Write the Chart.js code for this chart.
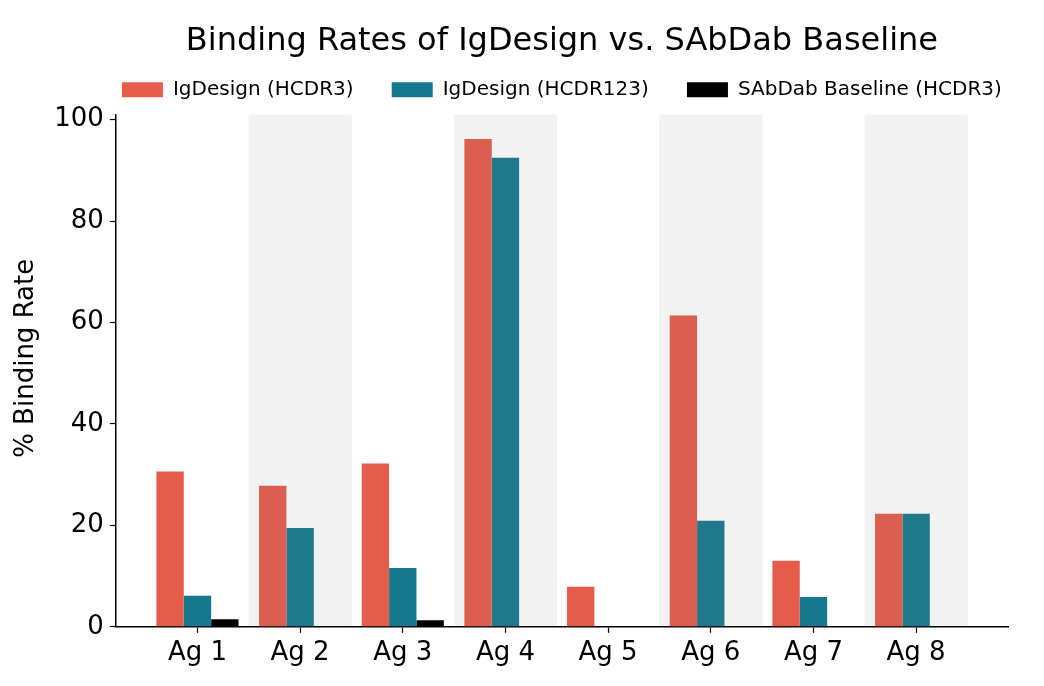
<!DOCTYPE html>
<html>
<head>
<meta charset="utf-8">
<title>Binding Rates of IgDesign vs. SAbDab Baseline</title>
<script src="https://cdn.jsdelivr.net/npm/chart.js@4.4.1/dist/chart.umd.min.js"></script>
<style>
  html, body { margin: 0; padding: 0; background: #fff; }
  #wrap { width: 1044px; height: 686px; }
</style>
</head>
<body>
<div id="wrap"><canvas id="chart"></canvas></div>
<script>
// values
const antigens = ['Ag 1', 'Ag 2', 'Ag 3', 'Ag 4', 'Ag 5', 'Ag 6', 'Ag 7', 'Ag 8'];
const hcdr3    = [30.6, 27.8, 32.2, 96.2, 7.9, 61.4, 13.0, 22.3];
const hcdr123  = [6.1, 19.5, 11.6, 92.5, 0, 20.9, 5.9, 22.3];
const baseline = [1.5, 0, 1.3, 0, 0, 0, 0, 0];
const seriesNames = ['IgDesign (HCDR3)', 'IgDesign (HCDR123)', 'SAbDab Baseline (HCDR3)'];
const shaded = ['Ag 2', 'Ag 4', 'Ag 6', 'Ag 8'];
const yTicks = [0, 20, 40, 60, 80, 100];
const yTop = 101;

Chart.defaults.font.family = '"DejaVu Sans", sans-serif';
Chart.defaults.color = '#000';

const toPoints = arr => arr.map((v, i) => ({ x: i, y: v }));

const bar = (label, data, color) => ({
  label: label,
  data: toPoints(data),
  backgroundColor: color,
  borderWidth: 0,
  categoryPercentage: 0.8,
  barPercentage: 1.0
});

new Chart(document.getElementById('chart'), {
  type: 'bar',
  data: {
    datasets: [
      bar(seriesNames[0], hcdr3, '#e55c4a'),
      bar(seriesNames[1], hcdr123, '#16788f'),
      bar(seriesNames[2], baseline, '#000000'),
      {
        // grey bands on every second antigen (drawn over the bars, translucent)
        label: 'band',
        data: shaded.map(a => ({ x: antigens.indexOf(a), y: yTop })),
        backgroundColor: 'rgba(128,128,128,0.1)',
        borderWidth: 0,
        grouped: false,
        categoryPercentage: 1,
        barPercentage: 1,
        order: -1
      }
    ]
  },
  options: {
    responsive: true,
    maintainAspectRatio: false,
    animation: false,
    layout: { padding: { top: 0, left: 11, right: 36, bottom: 12 } },
    plugins: {
      tooltip: { enabled: false },
      title: {
        display: true,
        text: 'Binding Rates of IgDesign vs. SAbDab Baseline',
        fullSize: false,
        font: { size: 32, weight: 'normal' },
        padding: { top: 22.8, bottom: 18.6 }
      },
      // thin spacer between legend and plot
      subtitle: {
        display: true,
        text: '',
        weight: 500,
        fullSize: false,
        font: { size: 1 },
        padding: { top: 0, bottom: 3.6 }
      },
      legend: {
        position: 'top',
        fullSize: false,
        labels: {
          boxWidth: 41,
          boxHeight: 15,
          padding: 0,
          font: { size: 20 },
          generateLabels: chart => Chart.defaults.plugins.legend.labels.generateLabels(chart)
            .filter(item => item.datasetIndex < seriesNames.length)
            .map((item, i, arr) => Object.assign(item, {
              text: item.text + (i < arr.length - 1 ? '      ' : '')
            }))
        }
      }
    },
    scales: {
      x: {
        type: 'linear',
        min: -0.795,
        max: 7.895,
        offset: false,
        afterBuildTicks: s => { s.ticks = antigens.map((a, i) => ({ value: i })); },
        grid: { offset: false, drawOnChartArea: false, tickLength: 6, tickColor: '#000', tickWidth: 1.2 },
        border: { color: '#000', width: 1.5 },
        ticks: {
          autoSkip: false,
          maxRotation: 0,
          padding: 5,
          font: { size: 26 },
          callback: v => antigens[v]
        }
      },
      y: {
        min: 0,
        max: yTop,
        afterBuildTicks: s => { s.ticks = yTicks.map(v => ({ value: v })); },
        grid: { drawOnChartArea: false, tickLength: 6, tickColor: '#000', tickWidth: 1.2 },
        border: { color: '#000', width: 1.5 },
        ticks: { padding: 6, font: { size: 26 } },
        title: {
          display: true,
          text: '   % Binding Rate',
          font: { size: 26 },
          padding: { top: 0, bottom: 6 }
        }
      }
    }
  }
});
</script>
</body>
</html>
